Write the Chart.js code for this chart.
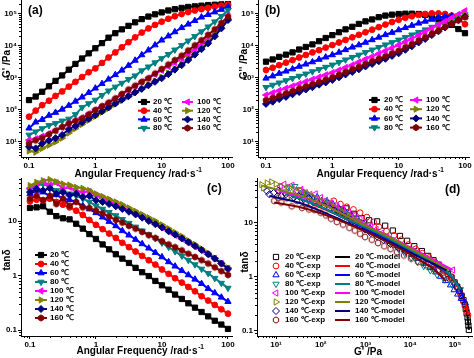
<!DOCTYPE html>
<html>
<head>
<meta charset="utf-8">
<title>Rheology panels</title>
<script src="https://cdn.jsdelivr.net/npm/chart.js@4.4.1/dist/chart.umd.min.js"></script>
<style>
  html, body { margin: 0; padding: 0; background: #fff; }
  body { position: relative; width: 474px; height: 358px; overflow: hidden; }
  canvas { position: absolute; }
</style>
</head>
<body>
<canvas id="panelA" width="237" height="180" style="left:0;top:0"></canvas>
<canvas id="panelB" width="237" height="180" style="left:237px;top:0"></canvas>
<canvas id="panelC" width="237" height="182" style="left:0;top:176px"></canvas>
<canvas id="panelD" width="237" height="182" style="left:237px;top:176px"></canvas>
<script>
const FONT = "'Liberation Sans', Arial, Helvetica, sans-serif";

// angular frequency (rad/s), shared by panels a-c
const freq = [0.1, 0.126, 0.158, 0.2, 0.251, 0.316, 0.398, 0.501, 0.631, 0.794,
  1, 1.26, 1.58, 2, 2.51, 3.16, 3.98, 5.01, 6.31, 7.94,
  10, 12.6, 15.8, 20, 25.1, 31.6, 39.8, 50.1, 63.1, 79.4, 100];

const temps = [20, 40, 60, 80, 100, 120, 140, 160];

// (a) log10 of G' (Pa)
const gp20 = [2.31,2.42,2.57,2.74,2.91,3.08,3.26,3.44,3.61,3.77,3.93,4.09,4.26,4.40,4.52,4.63,4.74,4.84,4.92,4.99,5.05,5.11,5.15,5.19,5.22,5.24,5.26,5.28,5.29,5.30,5.31];
const gp40 = [1.79,1.98,2.15,2.29,2.44,2.58,2.73,2.88,3.03,3.18,3.30,3.47,3.64,3.80,3.96,4.12,4.27,4.42,4.55,4.66,4.76,4.85,4.93,5.00,5.06,5.11,5.15,5.19,5.23,5.26,5.29];
const gp60 = [1.43,1.62,1.70,1.83,1.92,2.02,2.14,2.27,2.40,2.54,2.68,2.82,2.96,3.10,3.24,3.39,3.55,3.72,3.87,4.03,4.18,4.31,4.44,4.57,4.68,4.79,4.90,4.98,5.06,5.14,5.23];
const gp80 = [1.22,1.32,1.42,1.52,1.58,1.66,1.72,1.86,2.08,2.20,2.31,2.46,2.60,2.72,2.84,2.96,3.07,3.23,3.35,3.48,3.61,3.74,3.88,4.02,4.16,4.30,4.45,4.60,4.76,4.93,5.12];
const gp100 = [1.06,1.10,1.18,1.26,1.36,1.46,1.56,1.66,1.76,1.88,2.00,2.11,2.23,2.36,2.49,2.62,2.75,2.88,3.00,3.12,3.24,3.36,3.48,3.61,3.74,3.88,4.03,4.22,4.42,4.66,4.95];
const gp120 = [0.72,0.68,0.80,0.90,1.00,1.12,1.28,1.42,1.55,1.68,1.80,1.93,2.05,2.18,2.30,2.42,2.54,2.66,2.78,2.90,3.02,3.15,3.29,3.43,3.58,3.75,3.93,4.12,4.34,4.58,4.84];
const gp140 = [0.85,0.80,0.95,1.05,1.12,1.22,1.40,1.50,1.62,1.73,1.84,1.96,2.08,2.20,2.32,2.43,2.55,2.66,2.77,2.88,2.99,3.12,3.26,3.40,3.56,3.73,3.90,4.08,4.30,4.55,4.81];
const gp160 = [0.96,1.05,1.12,1.24,1.35,1.47,1.58,1.66,1.74,1.86,2.00,2.12,2.23,2.36,2.50,2.64,2.76,2.88,2.99,3.14,3.28,3.42,3.56,3.70,3.86,4.02,4.18,4.35,4.52,4.72,4.92];

// (b) log10 of G'' (Pa)
const gpp20 = [3.51,3.58,3.66,3.73,3.80,3.89,3.97,4.05,4.15,4.25,4.34,4.43,4.52,4.60,4.69,4.77,4.83,4.90,4.95,4.98,5.00,5.01,5.01,5.00,4.97,4.92,4.84,4.76,4.66,4.53,4.40];
const gpp40 = [3.25,3.32,3.40,3.48,3.56,3.64,3.72,3.80,3.87,3.95,4.03,4.11,4.19,4.27,4.35,4.43,4.51,4.59,4.67,4.75,4.82,4.88,4.93,4.97,5.00,5.02,5.02,5.00,4.95,4.85,4.68];
const gpp60 = [2.99,3.06,3.14,3.21,3.28,3.36,3.43,3.50,3.58,3.65,3.72,3.80,3.88,3.96,4.03,4.11,4.19,4.27,4.35,4.42,4.50,4.57,4.64,4.71,4.77,4.83,4.88,4.92,4.94,4.94,4.90];
const gpp80 = [2.71,2.78,2.85,2.92,2.99,3.06,3.13,3.20,3.27,3.34,3.41,3.49,3.57,3.65,3.72,3.80,3.88,3.96,4.04,4.11,4.19,4.27,4.35,4.43,4.51,4.59,4.67,4.75,4.83,4.91,4.98];
const gpp100 = [2.47,2.54,2.61,2.68,2.75,2.82,2.89,2.96,3.03,3.10,3.17,3.25,3.33,3.41,3.50,3.59,3.67,3.76,3.85,3.94,4.03,4.13,4.23,4.33,4.44,4.55,4.66,4.77,4.88,4.99,5.10];
const gpp120 = [2.24,2.31,2.39,2.46,2.54,2.61,2.69,2.76,2.84,2.91,2.99,3.07,3.16,3.24,3.32,3.41,3.49,3.57,3.65,3.74,3.82,3.93,4.04,4.16,4.27,4.39,4.51,4.63,4.74,4.86,4.97];
const gpp140 = [2.19,2.26,2.34,2.41,2.49,2.56,2.64,2.71,2.79,2.86,2.94,3.02,3.11,3.19,3.27,3.36,3.44,3.52,3.60,3.69,3.77,3.88,3.99,4.11,4.22,4.34,4.46,4.58,4.69,4.81,4.92];
const gpp160 = [2.31,2.38,2.45,2.52,2.59,2.67,2.74,2.81,2.88,2.95,3.02,3.10,3.19,3.27,3.35,3.44,3.52,3.60,3.68,3.77,3.85,3.96,4.06,4.17,4.27,4.38,4.48,4.59,4.69,4.80,4.90];

// (c) log10 of tan delta
const tan20 = [1.24,1.25,1.27,1.17,1.09,1.05,1.03,0.95,0.86,0.76,0.67,0.57,0.48,0.39,0.31,0.23,0.14,0.06,-0.01,-0.10,-0.18,-0.26,-0.35,-0.43,-0.51,-0.59,-0.67,-0.75,-0.83,-0.90,-0.98];
const tan40 = [1.36,1.39,1.38,1.41,1.35,1.30,1.25,1.19,1.11,1.02,0.93,0.85,0.77,0.69,0.60,0.52,0.44,0.36,0.28,0.20,0.11,0.03,-0.05,-0.13,-0.21,-0.29,-0.38,-0.46,-0.54,-0.62,-0.70];
const tan60 = [1.50,1.56,1.53,1.46,1.48,1.41,1.39,1.35,1.28,1.22,1.15,1.07,0.99,0.91,0.82,0.74,0.66,0.58,0.50,0.42,0.34,0.25,0.17,0.09,0.01,-0.07,-0.15,-0.24,-0.32,-0.40,-0.48];
const tan80 = [1.58,1.65,1.68,1.62,1.56,1.53,1.50,1.46,1.41,1.35,1.28,1.22,1.16,1.10,1.03,0.96,0.89,0.82,0.75,0.68,0.60,0.52,0.44,0.36,0.28,0.20,0.12,0.04,-0.05,-0.14,-0.23];
const tan100 = [1.59,1.68,1.72,1.66,1.70,1.59,1.62,1.56,1.53,1.54,1.47,1.42,1.37,1.32,1.26,1.20,1.14,1.08,1.01,0.95,0.88,0.81,0.74,0.67,0.60,0.53,0.46,0.39,0.31,0.22,0.13];
const tan120 = [1.65,1.71,1.74,1.76,1.72,1.68,1.66,1.62,1.60,1.56,1.50,1.45,1.40,1.35,1.30,1.24,1.18,1.12,1.06,1.00,0.93,0.86,0.79,0.72,0.64,0.57,0.49,0.41,0.32,0.23,0.14];
const tan140 = [1.53,1.59,1.56,1.60,1.50,1.53,1.47,1.50,1.44,1.46,1.38,1.35,1.31,1.27,1.22,1.17,1.12,1.06,1.00,0.94,0.88,0.81,0.75,0.68,0.61,0.54,0.47,0.39,0.31,0.22,0.12];
const tan160 = [1.41,1.47,1.38,1.46,1.31,1.41,1.28,1.35,1.25,1.24,1.19,1.14,1.08,1.02,0.97,0.91,0.86,0.80,0.74,0.69,0.63,0.57,0.52,0.46,0.40,0.34,0.28,0.22,0.15,0.08,0.01];

// (d) model curves: log10 G' and log10 tan delta
const modelX20 = [2.31,3.0,3.5,4.0,4.5,4.9,5.1,5.22,5.28,5.31];
const modelY20 = [1.22,0.95,0.75,0.53,0.28,0.02,-0.18,-0.45,-0.72,-0.98];
const modelX40 = [1.79,2.5,3.0,3.5,4.0,4.5,4.9,5.1,5.22,5.29];
const modelY40 = [1.36,1.1,0.9,0.7,0.48,0.24,0.0,-0.2,-0.45,-0.70];
const modelX60 = [1.43,2.0,2.5,3.0,3.5,4.0,4.5,4.9,5.1,5.23];
const modelY60 = [1.48,1.3,1.1,0.9,0.7,0.48,0.25,0.02,-0.2,-0.48];
const modelX80 = [1.22,2.0,2.5,3.0,3.5,4.0,4.5,4.9,5.12];
const modelY80 = [1.55,1.3,1.1,0.92,0.72,0.5,0.26,0.03,-0.23];
const modelX100 = [1.06,1.5,2.0,2.5,3.0,3.5,4.0,4.5,4.95];
const modelY100 = [1.6,1.5,1.36,1.16,0.96,0.76,0.55,0.33,0.13];
const modelX120 = [0.72,1.5,2.0,2.5,3.0,3.5,4.0,4.5,4.84];
const modelY120 = [1.68,1.52,1.36,1.16,0.95,0.75,0.53,0.3,0.14];
const modelX140 = [0.85,1.5,2.0,2.5,3.0,3.5,4.0,4.5,4.81];
const modelY140 = [1.5,1.38,1.22,1.04,0.86,0.66,0.45,0.25,0.12];
const modelX160 = [0.96,1.5,2.0,2.5,3.0,3.5,4.0,4.5,4.8];
const modelY160 = [1.38,1.3,1.18,1.02,0.84,0.64,0.42,0.16,-0.08];

// tick labels
const freqTicks = [0.1, 1, 10, 100];
const modulusTicks = [10, 100, 1000, 10000, 100000];
const tanTicks = [0.1, 1, 10];
const gpTicks = [10, 100, 1000, 10000, 100000];

const gpAll = [gp20, gp40, gp60, gp80, gp100, gp120, gp140, gp160];
const gppAll = [gpp20, gpp40, gpp60, gpp80, gpp100, gpp120, gpp140, gpp160];
const tanAll = [tan20, tan40, tan60, tan80, tan100, tan120, tan140, tan160];
const modelXAll = [modelX20, modelX40, modelX60, modelX80, modelX100, modelX120, modelX140, modelX160];
const modelYAll = [modelY20, modelY40, modelY60, modelY80, modelY100, modelY120, modelY140, modelY160];

const colors = ['#000000', '#ff0000', '#0000ff', '#008080', '#ff00ff', '#808000', '#000080', '#800000'];
const marks = [
  { style: 'rect', rot: 0, r: 3.7 },
  { style: 'circle', rot: 0, r: 2.9 },
  { style: 'triangle', rot: 0, r: 3.6 },
  { style: 'triangle', rot: 180, r: 3.6 },
  { style: 'triangle', rot: 270, r: 3.6 },
  { style: 'triangle', rot: 90, r: 3.6 },
  { style: 'rectRot', rot: 0, r: 3.5 },
  { style: 'hex', rot: 0, r: 3.1 }
];

const SUP = { '-1': '\u207B\u00B9', '0': '\u2070', '1': '\u00B9', '2': '\u00B2', '3': '\u00B3', '4': '\u2074', '5': '\u2075' };

function powerLabel(v) {
  return '10' + SUP[String(Math.round(Math.log10(v)))];
}
function plainLabel(v) {
  return v < 1 ? '0.1' : String(v);
}

function hexPath(g, x, y, r) {
  g.beginPath();
  for (let j = 0; j < 6; j++) {
    const a = -Math.PI / 2 + j * Math.PI / 3;
    const px = x + r * Math.cos(a), py = y + r * Math.sin(a);
    if (j === 0) g.moveTo(px, py); else g.lineTo(px, py);
  }
  g.closePath();
}

function hexMarker(color, filled, r) {
  const size = Math.ceil(2 * r + 3);
  const c = document.createElement('canvas');
  c.width = size; c.height = size;
  const g = c.getContext('2d');
  hexPath(g, size / 2, size / 2, r);
  if (filled) { g.fillStyle = color; g.fill(); }
  g.strokeStyle = color; g.lineWidth = 1; g.stroke();
  return c;
}

function styleFor(k, filled) {
  return marks[k].style === 'hex' ? hexMarker(colors[k], filled, marks[k].r) : marks[k].style;
}

// legend marker, same shapes as the library draws
function drawMark(ctx, k, x, y, filled) {
  const m = marks[k], r = m.r;
  ctx.save();
  ctx.beginPath();
  if (m.style === 'hex') {
    hexPath(ctx, x, y, r);
  } else if (m.style === 'circle') {
    ctx.arc(x, y, r, 0, 2 * Math.PI);
  } else if (m.style === 'rect') {
    const s = r * Math.SQRT1_2;
    ctx.rect(x - s, y - s, 2 * s, 2 * s);
  } else if (m.style === 'rectRot') {
    ctx.moveTo(x, y - r); ctx.lineTo(x + r, y); ctx.lineTo(x, y + r); ctx.lineTo(x - r, y); ctx.closePath();
  } else {
    let a = m.rot * Math.PI / 180;
    for (let j = 0; j < 3; j++) {
      const px = x + Math.sin(a) * r, py = y - Math.cos(a) * r;
      if (j === 0) ctx.moveTo(px, py); else ctx.lineTo(px, py);
      a += 2 * Math.PI / 3;
    }
    ctx.closePath();
  }
  if (filled) { ctx.fillStyle = colors[k]; ctx.fill(); }
  ctx.strokeStyle = colors[k]; ctx.lineWidth = 1; ctx.stroke();
  ctx.restore();
}

function drawTitle(ctx, main, sup, cx, cy) {
  ctx.font = 'bold 10px ' + FONT;
  const w1 = ctx.measureText(main).width;
  ctx.font = 'bold 6.5px ' + FONT;
  const w2 = sup ? ctx.measureText(sup).width : 0;
  const x0 = cx - (w1 + w2) / 2;
  ctx.textAlign = 'left';
  ctx.textBaseline = 'middle';
  ctx.font = 'bold 10px ' + FONT;
  ctx.fillText(main, x0, cy);
  if (sup) {
    ctx.font = 'bold 6.5px ' + FONT;
    ctx.fillText(sup, x0 + w1 + 0.5, cy - 4);
  }
}

function drawMinorTicks(chart) {
  const ctx = chart.ctx;
  ctx.save();
  ctx.strokeStyle = '#000';
  ctx.lineWidth = 1;
  ['x', 'y'].forEach(id => {
    const s = chart.scales[id];
    const lo = Math.floor(Math.log10(s.min)), hi = Math.ceil(Math.log10(s.max));
    for (let d = lo; d <= hi; d++) {
      for (let k = 2; k <= 9; k++) {
        const v = k * Math.pow(10, d);
        if (v < s.min || v > s.max) continue;
        const p = Math.round(s.getPixelForValue(v)) + 0.5;
        ctx.beginPath();
        if (id === 'x') { ctx.moveTo(p, s.top); ctx.lineTo(p, s.top + 2); }
        else { ctx.moveTo(s.right, p); ctx.lineTo(s.right - 2, p); }
        ctx.stroke();
      }
    }
  });
  ctx.restore();
}

// per-panel texts and legend layout (canvas coordinates)
const decor = {};

const panelDecor = {
  id: 'panelDecor',
  afterDraw(chart) {
    const o = decor[chart.canvas.id];
    if (!o) return;
    const ctx = chart.ctx;
    drawMinorTicks(chart);
    ctx.save();
    ctx.fillStyle = '#000';
    ctx.font = 'bold 12px ' + FONT;
    ctx.textAlign = 'left';
    ctx.textBaseline = 'middle';
    ctx.fillText(o.letter, o.letterAt[0], o.letterAt[1]);
    drawTitle(ctx, o.xTitle, o.xSup, o.xTitleAt[0], o.xTitleAt[1]);
    ctx.save();
    ctx.translate(o.yTitleAt[0], o.yTitleAt[1]);
    ctx.rotate(-Math.PI / 2);
    drawTitle(ctx, o.yTitle, '', 0, 0);
    ctx.restore();

    o.legend.forEach(it => {
      if (it.line) {
        ctx.save();
        ctx.strokeStyle = colors[it.k];
        ctx.lineWidth = 2;
        ctx.beginPath();
        ctx.moveTo(it.x0, it.y);
        ctx.lineTo(it.x1, it.y);
        ctx.stroke();
        ctx.restore();
      }
      if (it.mark) drawMark(ctx, it.k, it.markX, it.y, it.filled);
      ctx.fillStyle = '#000';
      ctx.font = 'bold 8px ' + FONT;
      ctx.textAlign = 'left';
      ctx.textBaseline = 'middle';
      ctx.fillText(it.text, it.textX, it.y);
    });
    ctx.restore();
  }
};

function axis(dir, a) {
  return {
    type: 'logarithmic',
    position: dir === 'x' ? 'bottom' : 'left',
    min: a.min,
    max: a.max,
    afterBuildTicks: s => { s.ticks = a.majors.map(v => ({ value: v })); },
    afterFit: s => {
      if (dir === 'x') { s.height = a.size; s.paddingLeft = 0; s.paddingRight = 0; }
      else { s.width = a.size; s.paddingTop = 0; s.paddingBottom = 0; }
    },
    ticks: {
      callback: v => a.label(v),
      autoSkip: false,
      maxRotation: 0,
      minRotation: 0,
      padding: 1,
      color: '#000',
      font: { family: FONT, size: 8, weight: 'bold' }
    },
    grid: { drawOnChartArea: false, drawTicks: true, tickLength: 3, color: '#000', lineWidth: 1 },
    border: { display: true, color: '#000', width: 1 }
  };
}

function makePanel(id, cfg) {
  return new Chart(document.getElementById(id), {
    type: 'scatter',
    data: { datasets: cfg.datasets },
    options: {
      responsive: false,
      animation: false,
      events: [],
      layout: { padding: cfg.padding, autoPadding: false },
      plugins: { legend: { display: false }, tooltip: { enabled: false } },
      scales: { x: axis('x', cfg.x), y: axis('y', cfg.y) }
    },
    plugins: [panelDecor]
  });
}

// frequency sweep series for panels a-c
function sweepSets(logValues) {
  return temps.map((t, k) => ({
    label: t + ' \u2103',
    data: freq.map((f, i) => ({ x: f, y: Math.pow(10, logValues[k][i]) })),
    showLine: true,
    borderColor: colors[k],
    borderWidth: 2,
    backgroundColor: colors[k],
    pointBackgroundColor: colors[k],
    pointBorderColor: colors[k],
    pointBorderWidth: 1,
    pointStyle: styleFor(k, true),
    pointRotation: marks[k].rot,
    pointRadius: marks[k].r,
    clip: false,
    order: 7 - k
  }));
}

function legendTwoCols(rows, cols) {
  const items = [];
  temps.forEach((t, k) => {
    const c = cols[Math.floor(k / 4)], y = rows[k % 4];
    items.push({ k, y, line: true, x0: c[0], x1: c[1], mark: true, markX: (c[0] + c[1]) / 2, filled: true, textX: c[2], text: t + ' \u2103' });
  });
  return items;
}

const freqTitle = 'Angular Frequency /rad\u00B7s';

// (a)
decor.panelA = {
  letter: '(a)', letterAt: [28, 11],
  xTitle: freqTitle, xSup: '-1', xTitleAt: [138, 174],
  yTitle: "G' /Pa", yTitleAt: [7, 64],
  legend: legendTwoCols([102, 110.7, 119.4, 128.1], [[138, 150, 153], [182, 193, 197]])
};
makePanel('panelA', {
  datasets: sweepSets(gpAll),
  padding: { left: 0, right: 5, top: 0, bottom: 0 },
  x: { min: Math.pow(10, -1.1206), max: Math.pow(10, 2.0603), majors: freqTicks, label: plainLabel, size: 23 },
  y: { min: Math.pow(10, 0.531), max: Math.pow(10, 5.4375), majors: modulusTicks, label: powerLabel, size: 21 }
});

// (b)
decor.panelB = {
  letter: '(b)', letterAt: [28, 11],
  xTitle: freqTitle, xSup: '-1', xTitleAt: [143, 174],
  yTitle: "G'' /Pa", yTitleAt: [7, 64],
  legend: legendTwoCols([100, 109.2, 118.4, 127.6], [[132, 143, 147], [173, 185, 189]])
};
makePanel('panelB', {
  datasets: sweepSets(gppAll),
  padding: { left: 0, right: 5, top: 0, bottom: 0 },
  x: { min: Math.pow(10, -1.1206), max: Math.pow(10, 2.0603), majors: freqTicks, label: plainLabel, size: 23 },
  y: { min: Math.pow(10, 0.531), max: Math.pow(10, 5.4375), majors: modulusTicks, label: powerLabel, size: 21 }
});

// (c)
decor.panelC = {
  letter: '(c)', letterAt: [207, 13],
  xTitle: freqTitle, xSup: '-1', xTitleAt: [140, 175],
  yTitle: 'tan\u03B4', yTitleAt: [7, 84],
  legend: temps.map((t, k) => ({ k, y: 79 + 9 * k, line: true, x0: 35, x1: 47, mark: true, markX: 41, filled: true, textX: 50, text: t + ' \u2103' }))
};
makePanel('panelC', {
  datasets: sweepSets(tanAll),
  padding: { left: 0, right: 5, top: 2, bottom: 0 },
  x: { min: Math.pow(10, -1.136), max: Math.pow(10, 2.061), majors: freqTicks, label: plainLabel, size: 22 },
  y: { min: Math.pow(10, -1.110), max: Math.pow(10, 1.789), majors: tanTicks, label: plainLabel, size: 21 }
});

// (d) tan delta against G': measured points from panels a and c, plus model lines
const expSets = temps.map((t, k) => ({
  label: t + ' \u2103-exp',
  data: freq.map((f, i) => ({ x: Math.pow(10, gpAll[k][i]), y: Math.pow(10, tanAll[k][i]) })),
  showLine: false,
  backgroundColor: 'rgba(0,0,0,0)',
  pointBackgroundColor: 'rgba(0,0,0,0)',
  pointBorderColor: colors[k],
  borderColor: colors[k],
  pointBorderWidth: 1,
  pointStyle: styleFor(k, false),
  pointRotation: marks[k].rot,
  pointRadius: marks[k].r,
  clip: false,
  order: 17 - k
}));
const modelSets = temps.map((t, k) => ({
  label: t + ' \u2103-model',
  data: modelXAll[k].map((v, j) => ({ x: Math.pow(10, v), y: Math.pow(10, modelYAll[k][j]) })),
  showLine: true,
  borderColor: colors[k],
  borderWidth: 2,
  pointRadius: 0,
  tension: 0.3,
  clip: false,
  order: 7 - k
}));

decor.panelD = {
  letter: '(d)', letterAt: [208, 14],
  xTitle: "G' /Pa", xSup: '', xTitleAt: [131, 176],
  yTitle: 'tan\u03B4', yTitleAt: [8, 86],
  legend: temps.map((t, k) => ({ k, y: 81 + 9 * k, line: false, mark: true, markX: 39, filled: false, textX: 48, text: t + ' \u2103-exp' }))
    .concat(temps.map((t, k) => ({ k, y: 81 + 9 * k, line: true, x0: 98, x1: 113, mark: false, textX: 118, text: t + ' \u2103-model' })))
};
makePanel('panelD', {
  datasets: expSets.concat(modelSets),
  padding: { left: 0, right: 2, top: 2, bottom: 0 },
  x: { min: Math.pow(10, 0.5754), max: Math.pow(10, 5.380), majors: gpTicks, label: powerLabel, size: 22 },
  y: { min: Math.pow(10, -1.0926), max: Math.pow(10, 1.833), majors: tanTicks, label: plainLabel, size: 20 }
});
</script>
</body>
</html>
